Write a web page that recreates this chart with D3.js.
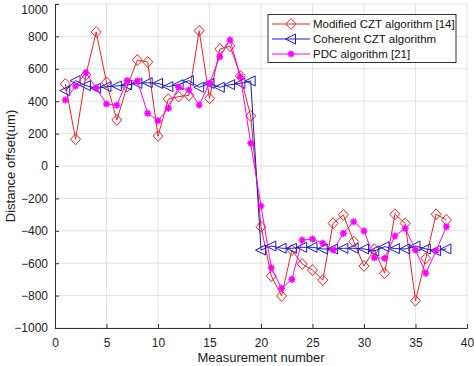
<!DOCTYPE html>
<html><head><meta charset="utf-8">
<script src="https://cdn.jsdelivr.net/npm/d3@7"></script>
<style>body{margin:0;background:#fff;} text{font-family:"Liberation Sans",Arial,sans-serif;}</style>
</head><body><svg id="c" width="474" height="366"></svg>
<script>
const xTicks = [0,5,10,15,20,25,30,35,40];
const yTicks = [-1000,-800,-600,-400,-200,0,200,400,600,800,1000];
const measurements = d3.range(1,39);
const modifiedCZT = [506,165,562,827,516,284,490,654,642,185,412,428,436,835,418,722,740,556,309,
  -375,-679,-802,-519,-605,-642,-704,-354,-302,-467,-617,-514,-662,-298,-354,-831,-570,-298,-333];
const coherentCZT = [465,527,496,480,490,494,500,510,514,510,490,502,527,486,510,486,502,510,525,
  -519,-494,-508,-508,-502,-502,-512,-512,-508,-508,-512,-525,-498,-510,-512,-494,-512,-523,-512];
const pdc = [407,494,576,481,383,375,527,525,325,280,356,486,469,377,510,675,778,551,140,
  -247,-628,-755,-700,-457,-451,-477,-519,-416,-344,-401,-566,-570,-432,-385,-519,-662,-523,-375];
const seriesNames = ["Modified CZT algorithm [14]","Coherent CZT algorithm","PDC algorithm [21]"];

const svg = d3.select("#c");
const L=55,R=467,T=4,B=328;
const x = d3.scaleLinear().domain([0,40]).range([L,R]);
const y = d3.scaleLinear().domain([-1000,1000]).range([B,T]);

// grid
const g = svg.append("g");
g.selectAll(".gx").data(xTicks.slice(1)).join("line")
  .attr("x1",d=>x(d)).attr("x2",d=>x(d)).attr("y1",T).attr("y2",B)
  .attr("stroke","#e3e3e3").attr("stroke-width",1);
g.selectAll(".gy").data(yTicks).join("line")
  .attr("x1",L).attr("x2",R).attr("y1",d=>y(d)).attr("y2",d=>y(d))
  .attr("stroke","#e3e3e3").attr("stroke-width",1);

// axes
const xa = svg.append("g").attr("transform",`translate(0,${B})`)
  .call(d3.axisBottom(x).tickValues(xTicks).tickFormat(d3.format("d")).tickSize(-4).tickPadding(10));
const ya = svg.append("g").attr("transform",`translate(${L},0)`)
  .call(d3.axisLeft(y).tickValues(yTicks).tickFormat(d3.format("d")).tickSize(-4).tickPadding(7));
[xa,ya].forEach(a=>{
  a.select(".domain").attr("stroke","#333");
  a.selectAll(".tick line").attr("stroke","#333");
  a.selectAll("text").attr("font-size",12).attr("fill","#222")
    .attr("font-family",'"Liberation Sans",Arial,sans-serif');
});
ya.selectAll(".tick text").filter(d=>d===1000).attr("dy","0.75em");

svg.append("text").attr("x",(L+R)/2).attr("y",362).attr("text-anchor","middle")
  .attr("font-size",13).attr("fill","#222").text("Measurement number");
svg.append("text").attr("transform",`translate(15,${(T+B)/2}) rotate(-90)`)
  .attr("text-anchor","middle").attr("font-size",13).attr("fill","#222").text("Distance offset(um)");

const colors = ["#ee2222","#1a1ad6","#ff00ff"];
const data = [modifiedCZT,coherentCZT,pdc];
const line = d3.line().x((d,i)=>x(measurements[i])).y(d=>y(d));

function marker(sel,k,cx,cy){
  const c = colors[k];
  if(k===0){
    sel.append("path").attr("d",`M${cx},${cy-5.5}L${cx+5},${cy}L${cx},${cy+5.5}L${cx-5},${cy}Z`)
      .attr("fill","none").attr("stroke",c).attr("stroke-width",1);
  } else if(k===1){
    sel.append("path").attr("d",`M${cx-5.5},${cy}L${cx+4.5},${cy-5}L${cx+4.5},${cy+5}Z`)
      .attr("fill","none").attr("stroke",c).attr("stroke-width",1);
  } else {
    const r=3.5;
    let d="";
    for(let a=0;a<4;a++){const t=a*Math.PI/4;d+=`M${cx-r*Math.cos(t)},${cy-r*Math.sin(t)}L${cx+r*Math.cos(t)},${cy+r*Math.sin(t)}`;}
    sel.append("path").attr("d",d).attr("stroke",c).attr("stroke-width",1.6);
  }
}

data.forEach((arr,k)=>{
  const sg = svg.append("g");
  sg.append("path").datum(arr).attr("d",line).attr("fill","none")
    .attr("stroke",colors[k]).attr("stroke-width",1);
  arr.forEach((v,i)=>marker(sg,k,x(measurements[i]),y(v)));
});

// legend
const lg = svg.append("g");
lg.append("rect").attr("x",268).attr("y",14.5).attr("width",188).attr("height",48)
  .attr("fill","#fff").attr("stroke","#333").attr("stroke-width",1);
seriesNames.forEach((n,k)=>{
  const yy = 24+k*15;
  lg.append("line").attr("x1",272).attr("x2",310).attr("y1",yy).attr("y2",yy)
    .attr("stroke",colors[k]).attr("stroke-width",1);
  marker(lg,k,291,yy);
  lg.append("text").attr("x",313).attr("y",yy+4).attr("font-size",11.5).attr("fill","#111").text(n);
});
</script></body></html>
